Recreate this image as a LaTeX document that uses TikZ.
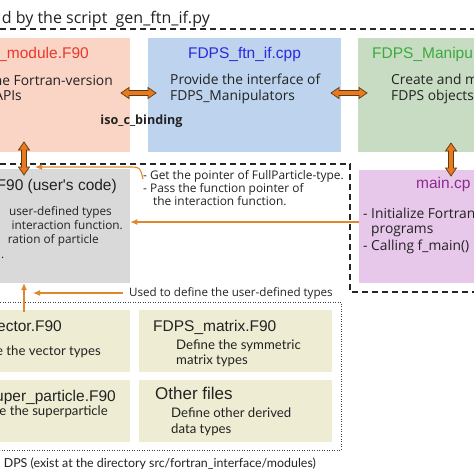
\documentclass[tikz,border=0pt]{standalone}
\usepackage{fontspec}
\setmainfont{Open Sans}
\newfontfamily\ttlfont{Liberation Sans}
\newfontfamily\yelfont{Lato}
\usetikzlibrary{arrows.meta,calc}
\definecolor{redbox}{HTML}{FAD4C5}
\definecolor{redtxt}{HTML}{E8382F}
\definecolor{bluebox}{HTML}{BDD3EE}
\definecolor{bluetxt}{HTML}{2A2ADB}
\definecolor{greenbox}{HTML}{C7DCC3}
\definecolor{greentxt}{HTML}{3BAA3B}
\definecolor{graybox}{HTML}{D9D9D9}
\definecolor{magbox}{HTML}{E7C7EA}
\definecolor{magtxt}{HTML}{8E2A8E}
\definecolor{yelbox}{HTML}{EEEDD4}
\definecolor{orfill}{HTML}{E8791E}
\definecolor{orline}{HTML}{5C3B12}
\definecolor{thinor}{HTML}{E0862B}
\definecolor{bodytxt}{HTML}{222222}
\newcommand\hdbl[3]{\draw[fatarr] (#1,#3) -- ++(8,-5.5) -- ++(0,3) -- (#2-8,#3-2.5) -- ++(0,-3) -- (#2,#3) -- ++(-8,5.5) -- ++(0,-3) -- (#1+8,#3+2.5) -- ++(0,3) -- cycle;}
\newcommand\vdbl[3]{\draw[fatarr] (#1,#2) -- ++(5.5,8) -- ++(-3,0) -- (#1+2.5,#3-8) -- ++(3,0) -- (#1,#3) -- ++(-5.5,-8) -- ++(3,0) -- (#1-2.5,#2+8) -- ++(-3,0) -- cycle;}
\begin{document}
\begin{tikzpicture}[x=1pt,y=-1pt,
  box/.style={anchor=north west, inner sep=0pt, draw=none},
  txt/.style={inner sep=0pt, text=bodytxt, font=\fontsize{13.8}{16}\selectfont},
  gtxt/.style={inner sep=0pt, text=bodytxt, font=\fontsize{11.8}{14}\selectfont},
  ttl/.style={inner sep=0pt, font=\ttlfont\fontsize{15.5}{18}\selectfont},
  yttl/.style={inner sep=0pt, text=bodytxt, font=\ttlfont\fontsize{15.5}{18}\selectfont},
  ytxt/.style={inner sep=0pt, text=bodytxt, font=\yelfont\fontsize{13.2}{15}\selectfont},
  note/.style={inner sep=0pt, text=bodytxt, font=\fontsize{11.9}{13}\selectfont},
  fatarr/.style={fill=orfill, draw=orline, line width=0.7pt, line join=miter},
  thin/.style={draw=thinor, line width=1.1pt, -{Latex[length=7pt,width=6pt]}},
  bigdash/.style={draw=black!85, line width=1.6pt, dash pattern=on 6pt off 4pt},
  smalldot/.style={draw=black!75, line width=0.9pt, dash pattern=on 0.9pt off 1.6pt}
]
\useasboundingbox (0,0) rectangle (474,474);
\clip (0,0) rectangle (474,474);
\fill[white] (0,0) rectangle (474,474);

% top caption and dashed border
\node[inner sep=0pt, text=bodytxt, font=\fontsize{16}{18}\selectfont, anchor=base east] (cap) at (210,23) {d by the script~~gen\_ftn\_if.py};
\draw[bigdash] (0,29) coordinate (t1) -- (474,29) coordinate (t2);

% boxes
\node[box, fill=redbox, minimum width=140pt, minimum height=114pt] (modbox) at (-10,38) {};
\node[box, fill=bluebox, minimum width=193pt, minimum height=114pt] (ftnbox) at (148,38) {};
\node[box, fill=greenbox, minimum width=130pt, minimum height=114pt] (manbox) at (358,38) {};
\node[box, fill=graybox, minimum width=140pt, minimum height=114pt] (userbox) at (-10,169) {};
\node[box, fill=magbox, minimum width=130pt, minimum height=113pt] (mainbox) at (359,170) {};
\node[box, fill=yelbox, minimum width=140pt, minimum height=62pt] (vecbox) at (-10,310) {};
\node[box, fill=yelbox, minimum width=193pt, minimum height=62pt] (matbox) at (139,310) {};
\node[box, fill=yelbox, minimum width=140pt, minimum height=62pt] (supbox) at (-10,380) {};
\node[box, fill=yelbox, minimum width=193pt, minimum height=62pt] (othbox) at (139,380) {};

% texts red box
\node[ttl, text=redtxt, anchor=base east] (modt) at (89,58) {\_module.F90};
\node[txt, anchor=base east] (mod1) at (113,85) {he Fortran-version};
\node[txt, anchor=base east] (mod2) at (22,100) {APIs};
% blue box
\node[ttl, text=bluetxt, anchor=base] (ftnt) at (244.5,58) {FDPS\_ftn\_if.cpp};
\node[txt, anchor=base west] (ftn1) at (170,84) {Provide the interface of};
\node[txt, anchor=base west] (ftn2) at (170,100) {FDPS\_Manipulators};
% green box
\node[ttl, text=greentxt, anchor=base west] (mant) at (372,58) {FDPS\_Manipu};
\node[txt, anchor=base west] (man1) at (391,84) {Create and m};
\node[txt, anchor=base west] (man2) at (391,100) {FDPS objects};
% iso_c_binding
\node[inner sep=0pt, text=bodytxt, font=\bfseries\fontsize{12.6}{14}\selectfont, anchor=base] (iso) at (141.5,124) {iso\_c\_binding};

% gray box
\node[ttl, text=bodytxt, anchor=base east] (usert) at (117,190) {F90 (user's code)};
\node[gtxt, anchor=base east] (user1) at (112,215) {user-defined types};
\node[gtxt, anchor=base east] (user2) at (123,229) {interaction function.};
\node[gtxt, anchor=base east] (user3) at (99,243) {ration of particle};
\node[gtxt, anchor=base west] (user4) at (1,258) {.};

% main.cpp
\node[ttl, text=magtxt, anchor=base west] (maint) at (416,188) {main.cp};
\node[txt, anchor=base west] (main1) at (363,218) {- Initialize Fortran};
\node[txt, anchor=base west] (main2) at (371,233) {programs};
\node[txt, anchor=base west] (main3) at (363,250) {- Calling f\_main()};

% annotation
\node[note, anchor=base west] (ann1) at (143,179) {- Get the pointer of FullParticle-type.};
\node[note, anchor=base west] (ann2) at (143,192) {- Pass the function pointer of};
\node[note, anchor=base west] (ann3) at (153,205) {the interaction function.};
\node[inner sep=0pt, text=bodytxt, font=\fontsize{11.6}{13}\selectfont, anchor=base west] (used) at (129,296) {Used to define the user-defined types};

% yellow boxes
\node[yttl, anchor=base east] (vect) at (62,331) {ector.F90};
\node[ytxt, anchor=base east] (vec1) at (101,355) {e the vector types};
\node[yttl, anchor=base east] (supt) at (116,401) {uper\_particle.F90};
\node[ytxt, anchor=base east] (sup1) at (108,415) {e the superparticle};
\node[yttl, anchor=base west] (matt) at (153,331) {FDPS\_matrix.F90};
\node[ytxt, anchor=base west] (mat1) at (176,349) {Define the symmetric};
\node[ytxt, anchor=base west] (mat2) at (176,364) {matrix types};
\node[inner sep=0pt, text=bodytxt, font=\ttlfont\fontsize{17}{20}\selectfont, anchor=base west] (otht) at (155,399) {Other files};
\node[ytxt, anchor=base west] (oth1) at (171,417) {Define other derived};
\node[ytxt, anchor=base west] (oth2) at (171,433) {data types};
\node[inner sep=0pt, text=bodytxt, font=\yelfont\fontsize{12.4}{14}\selectfont, anchor=base east] (bottom) at (316,467) {DPS (exist at the directory src/fortran\_interface/modules)};

% region borders
\draw[bigdash] (0,164) -- (350,164) -- (350,292) -- (474,292);
\draw[smalldot] (0,302) -- (341,302) -- (341,450) -- (0,450);

% fat double arrows
\hdbl{121}{156}{93}
\hdbl{331}{367}{93}
\vdbl{24}{142}{175}
\vdbl{451}{143}{176}

% thin connectors
\coordinate (annstart) at (143,179);
\coordinate (annend) at (35,167);
\draw[thin] (annstart) .. controls (140,167) .. (128,167) -- (annend);
\draw[thin] (mainbox.west |- 0,222) -- (userbox.east |- 0,222);
\coordinate (usedend) at (33,293);
\draw[thin] (used.west |- 0,293) ++(-6,0) -- (usedend);
\draw[thin] (24,312) -- (24,283);
\end{tikzpicture}
\end{document}
